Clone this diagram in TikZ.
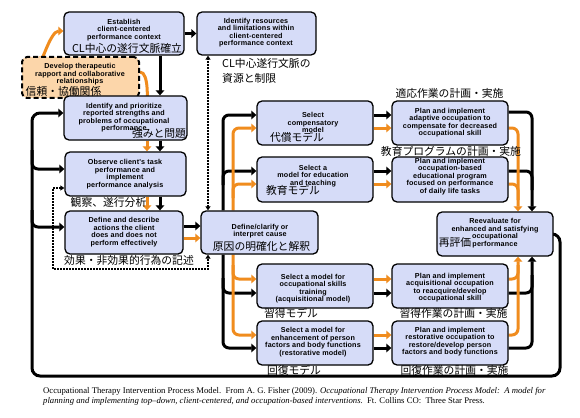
\documentclass[tikz,border=0pt]{standalone}
\usepackage{fontspec}
\setmainfont{Liberation Serif}
\newfontfamily\boxfont{Liberation Sans}[LetterSpace=2]
\newfontfamily\jpfont{Noto Sans CJK JP}
\usetikzlibrary{arrows.meta,calc}
\pgfdeclarelayer{bg}
\pgfsetlayers{bg,main}
\definecolor{boxblue}{RGB}{214,220,248}
\definecolor{oline}{RGB}{240,140,30}
\definecolor{devfill}{RGB}{252,214,170}
\begin{document}
\begin{tikzpicture}[x=1pt,y=-1pt,
 box/.style={draw, line width=1.3pt, rounded corners=5pt, fill=boxblue, inner sep=0pt, minimum width=116pt, minimum height=44pt},
 txt/.style={font=\boxfont\bfseries\fontsize{7.2}{7.5}\selectfont, align=center, inner sep=0pt},
 jp/.style={font=\jpfont\fontsize{10.8}{14.5}\selectfont, inner sep=0pt},
 conn/.style={line width=3pt, -{Triangle[length=5pt,width=8.5pt]}},
 blk/.style={conn, draw=black},
 org/.style={conn, draw=oline},
 dots/.style={line width=1.6pt, dash pattern=on 1.5pt off 1.5pt, {Triangle[length=4pt,width=5pt]}-{Triangle[length=4pt,width=5pt]}},
]
\useasboundingbox (0,0) rectangle (580,417);
\begin{pgfonlayer}{bg}
\fill[white] (0,0) rectangle (580,417);
\end{pgfonlayer}

% boxes
\node[box, minimum width=120pt, minimum height=43pt] (est) at (124,33.5) {};
\node[box, minimum width=119pt, minimum height=43pt] (res) at (256.5,33.5) {};
\node[draw, line width=2pt, dash pattern=on 5pt off 3pt, rounded corners=5pt, fill=devfill, minimum width=117pt, minimum height=41pt] (dev) at (80.5,77.5) {};
\node[box, minimum width=123pt] (idp) at (125.5,118) {};
\node[box, minimum width=121pt] (obs) at (125.5,174) {};
\node[box, minimum width=118pt, minimum height=43pt] (dsc) at (124,232.5) {};
\node[box, minimum width=117pt, minimum height=43pt] (cla) at (259.5,232.5) {};
\node[box] (comp) at (315,123) {};
\node[box, minimum height=45pt] (edu) at (315,179.5) {};
\node[box] (skl) at (315,286) {};
\node[box] (enh) at (315,343) {};
\node[box] (pad) at (450,123) {};
\node[box, minimum height=45pt] (ped) at (450,179.5) {};
\node[box] (ree) at (495,234) {};
\node[box] (pac) at (450,286) {};
\node[box] (pre) at (450,343) {};

% English texts
\node[txt] (estT) at (124,30) {Establish\\client-centered\\performance context};
\node[txt] (resT) at (256,32.5) {Identify resources\\and limitations within\\client-centered\\performance context};
\node[txt] (devT) at (80,74.5) {Develop therapeutic\\rapport and collaborative\\relationships};
\node[txt] (idpT) at (124,117.5) {Identify and prioritize\\reported strengths and\\problems of occupational\\performance};
\node[txt] (obsT) at (125,174) {Observe client's task\\performance and\\implement\\performance analysis};
\node[txt] (dscT) at (124,232) {Define and describe\\actions the client\\does and does not\\perform effectively};
\node[txt] (claT) at (260,231) {Define/clarify or\\interpret cause};
\node[txt] (compT) at (313,122.5) {Select\\compensatory\\model};
\node[txt] (eduT) at (313,176) {Select a\\model for education\\and teaching};
\node[txt] (sklT) at (313,288.5) {Select a model for\\occupational skills\\training\\(acquisitional model)};
\node[txt] (enhT) at (313,342) {Select a model for\\enhancement of person\\factors and body functions\\(restorative model)};
\node[txt] (padT) at (450,122.5) {Plan and implement\\adaptive occupation to\\compensate for decreased\\occupational skill};
\node[txt] (pedT) at (450,176.5) {Plan and implement\\occupation-based\\educational program\\focused on performance\\of daily life tasks};
\node[txt] (reeT) at (495,233) {Reevaluate for\\enhanced and satisfying\\occupational\\performance};
\node[txt] (pacT) at (450,287.5) {Plan and implement\\acquisitional occupation\\to reacquire/develop\\occupational skill};
\node[txt] (preT) at (450,341.5) {Plan and implement\\restorative occupation to\\restore/develop person\\factors and body functions};

% Japanese labels
\node[jp] (estJ) at (127,48) {CL中心の遂行文脈確立};
\node[jp] (devJ) at (63.5,91) {信頼・協働関係};
\node[jp, anchor=west, align=left] (resJ) at (222,71) {CL中心遂行文脈の\\資源と制限};
\node[jp] (idpJ) at (159,133) {強みと問題};
\node[jp] (obsJ) at (108.5,202) {観察、遂行分析};
\node[jp] (dscJ) at (129,260) {効果・非効果的行為の記述};
\node[jp] (compJ) at (297,137) {代償モデル};
\node[jp] (eduJ) at (293,190) {教育モデル};
\node[jp] (claJ) at (261.5,246) {原因の明確化と解釈};
\node[jp] (sklJ) at (291,313) {習得モデル};
\node[jp] (enhJ) at (294,370) {回復モデル};
\node[jp] (padJ) at (449.5,93) {適応作業の計画・実施};
\node[jp] (pedJ) at (451,151) {教育プログラムの計画・実施};
\node[jp] (reeJ) at (455,242) {再評価};
\node[jp] (pacJ) at (453.5,313) {習得作業の計画・実施};
\node[jp] (preJ) at (454.5,370) {回復作業の計画・実施};

% caption
\node[anchor=north west, align=left, inner sep=0pt, font=\fontsize{8.7}{10.5}\selectfont] (cap) at (43,387)
 {Occupational Therapy Intervention Process Model.\ \ From A. G. Fisher (2009). \textit{Occupational Therapy Intervention Process Model:\ \ A model for}\\
  \textit{planning and implementing top--down, client-centered, and occupation-based interventions}.\ \ Ft. Collins CO:\ \ Three Star Press.};

\begin{pgfonlayer}{bg}
% top area
\draw[blk] (est.east) -- (res.west);
\draw[blk] (est.south -| 160,0) -- (idp.north -| 160,0);
\draw[org, {Triangle[length=5pt,width=8.5pt]}-{Triangle[length=5pt,width=8.5pt]}] (dev.north -| 40,0) to[out=-90,in=180] (est.west |- 0,31);
\draw[org] (dev.east |- 0,72) to[out=0,in=-90] (idp.north -| 147,0);
\draw[org] (idp.south -| 147,0) -- (obs.north -| 147,0);
\draw[blk] (idp.south -| 160,0) -- (obs.north -| 160,0);
\draw[org] (obs.south -| 147,0) -- (dsc.north -| 147,0);
\draw[blk] (obs.south -| 160,0) -- (dsc.north -| 160,0);
\draw[blk] (dsc.east |- 0,226) -- (cla.west |- 0,226);
\draw[org] (dsc.east |- 0,238) -- (cla.west |- 0,238);
% dotted
\draw[dots] (cla.north -| 208,0) -- (res.south -| 208,0);
\draw[dots] (obs.west |- 0,188) -- (53,188) -- (53,269) -- (208,269) -- (cla.south -| 208,0);
% return loop
\draw[blk, rounded corners=8pt] (ree.east) -| (560,376) -| (32,113) -- (idp.west |- 0,113);
\draw[blk, rounded corners=6pt] (32,150) |- (obs.west |- 0,169);
\draw[blk, rounded corners=6pt] (32,210) |- (dsc.west |- 0,227);
% from cla to selects
\draw[blk, rounded corners=6pt] (cla.north -| 223,0) |- (comp.west |- 0,115);
\draw[blk, rounded corners=6pt] (223,185) |- (edu.west |- 0,171);
\draw[blk, rounded corners=6pt] (cla.south -| 223,0) |- (enh.west |- 0,348);
\draw[blk, rounded corners=6pt] (223,278) |- (skl.west |- 0,293);
\draw[org, rounded corners=6pt] (cla.north -| 233,0) |- (comp.west |- 0,128);
\draw[org, rounded corners=6pt] (233,198) |- (edu.west |- 0,184);
\draw[org, rounded corners=6pt] (cla.south -| 233,0) |- (enh.west |- 0,335);
\draw[org, rounded corners=6pt] (233,265) |- (skl.west |- 0,279);
% selects to plans
\draw[blk] (comp.east |- 0,115) -- (pad.west |- 0,115);
\draw[org] (comp.east |- 0,128) -- (pad.west |- 0,128);
\draw[blk] (edu.east |- 0,171) -- (ped.west |- 0,171);
\draw[org] (edu.east |- 0,184) -- (ped.west |- 0,184);
\draw[org] (skl.east |- 0,279) -- (pac.west |- 0,279);
\draw[blk] (skl.east |- 0,293) -- (pac.west |- 0,293);
\draw[org] (enh.east |- 0,335) -- (pre.west |- 0,335);
\draw[blk] (enh.east |- 0,348) -- (pre.west |- 0,348);
% plans to reevaluate
\draw[blk, rounded corners=6pt] (pad.east |- 0,112) -| (ree.north -| 532,0);
\draw[blk, rounded corners=6pt, -] (ped.east |- 0,171) -| (532,190);
\draw[org, rounded corners=6pt] (pad.east |- 0,128) -| (ree.north -| 518,0);
\draw[org, rounded corners=6pt, -] (ped.east |- 0,184) -| (518,200);
\draw[blk, rounded corners=6pt] (pre.east |- 0,348) -| (ree.south -| 532,0);
\draw[blk, rounded corners=6pt, -] (pac.east |- 0,293) -| (532,275);
\draw[org, rounded corners=6pt] (pre.east |- 0,335) -| (ree.south -| 518,0);
\draw[org, rounded corners=6pt, -] (pac.east |- 0,279) -| (518,265);
\end{pgfonlayer}
\end{tikzpicture}
\end{document}
